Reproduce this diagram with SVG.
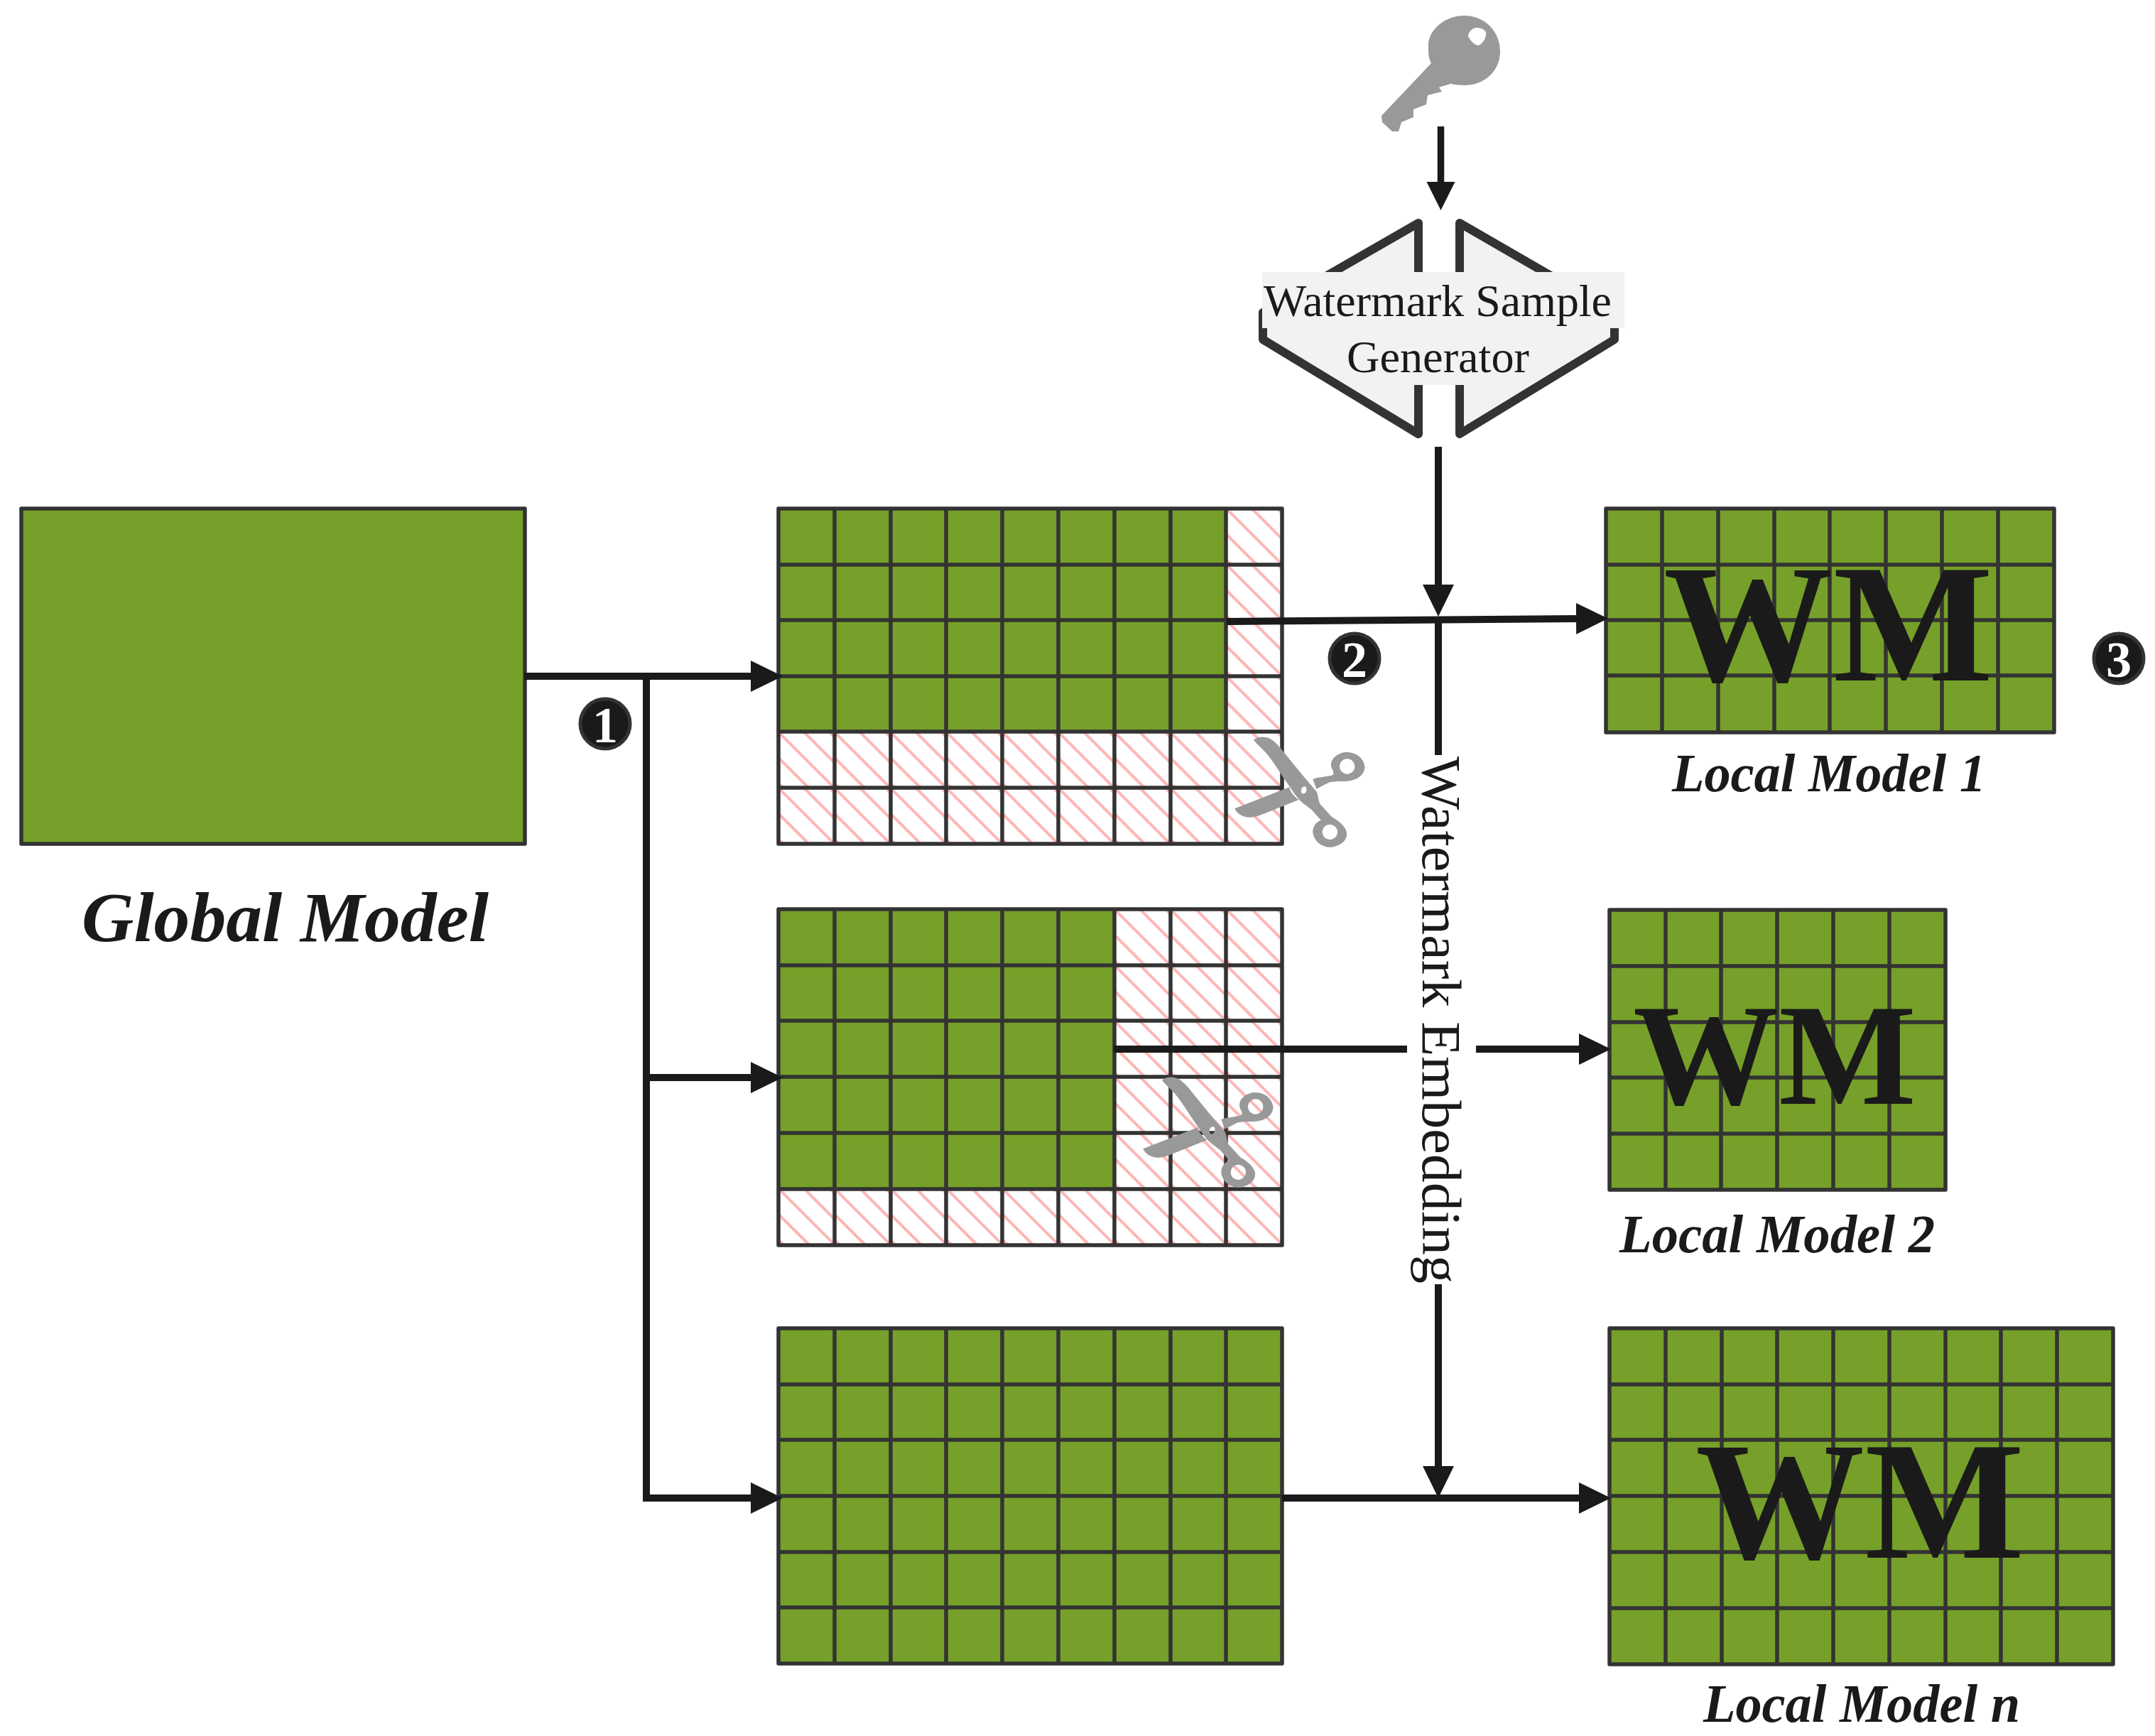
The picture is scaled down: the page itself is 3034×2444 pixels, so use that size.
<svg xmlns="http://www.w3.org/2000/svg" xmlns:xlink="http://www.w3.org/1999/xlink" width="3034" height="2444" viewBox="0 0 3034 2444">
<style>
text{font-family:"Liberation Serif","Times New Roman",serif;fill:#1a1a1a}
.green{fill:#76a029}
.grid{fill:none;stroke:#333;stroke-width:5.5;stroke-linejoin:round}
.conn{fill:none;stroke:#1a1a1a;stroke-width:10}
.lab{font-size:76px;font-weight:bold;font-style:italic}
.wm{font-weight:bold}
.gen{font-size:63px}
.badge circle{fill:#1a1a1a;stroke:#333;stroke-width:5}
.badge text{font-size:72px;font-weight:bold;fill:#fff;text-anchor:middle}
.grey{fill:#999}
</style>
<defs>
<g id="hl"><path d="M0 0L78.8 78.7M36 0L78.8 42.8M72 0L78.8 6.8M0 36L42.7 78.7M0 72L6.7 78.7" stroke="#ffb4b4" stroke-width="4" fill="none"/></g>
<pattern id="hatchA" patternUnits="userSpaceOnUse" x="1096" y="716" width="78.8" height="78.67"><use xlink:href="#hl" href="#hl"/></pattern>
<pattern id="hatchB" patternUnits="userSpaceOnUse" x="1096" y="1280" width="78.8" height="78.67"><use xlink:href="#hl" href="#hl"/></pattern>
<marker id="arr" markerUnits="userSpaceOnUse" markerWidth="48" markerHeight="46" refX="1" refY="23" orient="auto"><path d="M0 1L45 23L0 45z" fill="#1a1a1a"/></marker>
<marker id="arrS" markerUnits="userSpaceOnUse" markerWidth="44" markerHeight="42" refX="1" refY="21" orient="auto"><path d="M0 1L40 21L0 41z" fill="#1a1a1a"/></marker>
<g id="scissors" class="grey" transform="translate(1600,700) scale(.33333)">
<path d="M495 1025C510 1012 535 1008 560 1018C585 1030 605 1055 625 1080L700 1172L762 1245C768 1262 768 1280 775 1295L825 1350C850 1365 880 1385 888 1415C892 1445 870 1470 825 1478C785 1480 750 1455 745 1415C745 1390 760 1370 780 1365L740 1320C715 1300 690 1285 675 1262C660 1245 650 1225 640 1212C610 1170 590 1135 560 1095C540 1070 515 1050 495 1025ZM817 1382A32 32 0 1 0 817.1 1446A32 32 0 1 0 817 1382ZM707 1222A10 15 20 1 0 707.1 1252A10 15 20 1 0 707 1222Z" fill-rule="evenodd"/>
<path d="M415 1315L645 1225C652 1250 668 1265 685 1278L525 1342C495 1355 465 1355 445 1345C430 1338 420 1327 415 1315Z"/>
<path d="M745 1190C770 1182 800 1180 825 1175C835 1170 835 1160 825 1145C815 1120 830 1090 875 1078C925 1072 960 1100 965 1140C960 1180 925 1198 880 1200C850 1200 830 1200 812 1205L760 1232ZM890 1105A32 32 0 1 0 890.1 1169A32 32 0 1 0 890 1105Z" fill-rule="evenodd"/>
</g>
</defs>
<rect width="3034" height="2444" fill="#fff"/>

<g id="global-model">
<rect class="green" x="30" y="716" width="709" height="472"/>
<rect class="grid" x="30" y="716" width="709" height="472"/>
<text x="115" y="1325" font-size="100" font-weight="bold" font-style="italic" textLength="573" lengthAdjust="spacingAndGlyphs">Global Model</text>
</g>

<g id="pruned-model-a">
<rect x="1096" y="716" width="709" height="472" fill="url(#hatchA)"/>
<rect class="green" x="1096" y="716" width="630" height="314"/>
<path class="grid" d="M1096 716H1805V1188H1096ZM1175 716V1188M1254 716V1188M1332 716V1188M1411 716V1188M1490 716V1188M1569 716V1188M1648 716V1188M1726 716V1188M1096 795H1805M1096 873H1805M1096 952H1805M1096 1030H1805M1096 1109H1805"/>
</g>

<g id="pruned-model-b">
<rect x="1096" y="1280" width="709" height="473" fill="url(#hatchB)"/>
<rect class="green" x="1096" y="1280" width="472" height="394"/>
<path class="grid" d="M1096 1280H1805V1753H1096ZM1175 1280V1753M1254 1280V1753M1332 1280V1753M1411 1280V1753M1490 1280V1753M1569 1280V1753M1648 1280V1753M1726 1280V1753M1096 1359H1805M1096 1437H1805M1096 1516H1805M1096 1595H1805M1096 1674H1805"/>
</g>

<g id="full-model-c">
<rect class="green" x="1096" y="1870" width="709" height="472"/>
<path class="grid" d="M1096 1870H1805V2342H1096ZM1175 1870V2342M1254 1870V2342M1332 1870V2342M1411 1870V2342M1490 1870V2342M1569 1870V2342M1648 1870V2342M1726 1870V2342M1096 1949H1805M1096 2027H1805M1096 2106H1805M1096 2185H1805M1096 2263H1805"/>
</g>

<g id="local-model-1">
<rect class="green" x="2261" y="716" width="631" height="315"/>
<path class="grid" d="M2261 716H2892V1031H2261ZM2340 716V1031M2419 716V1031M2498 716V1031M2576 716V1031M2655 716V1031M2734 716V1031M2813 716V1031M2261 795H2892M2261 873H2892M2261 951H2892"/>
<text class="wm" x="2342" y="958" font-size="238" textLength="464" lengthAdjust="spacingAndGlyphs">WM</text>
<text class="lab" x="2354" y="1114" textLength="442" lengthAdjust="spacingAndGlyphs">Local Model 1</text>
</g>

<g id="local-model-2">
<rect class="green" x="2266" y="1281" width="473" height="394"/>
<path class="grid" d="M2266 1281H2739V1675H2266ZM2345 1281V1675M2423 1281V1675M2502 1281V1675M2581 1281V1675M2660 1281V1675M2266 1360H2739M2266 1439H2739M2266 1517H2739M2266 1596H2739"/>
<text class="wm" x="2299" y="1554" font-size="204" textLength="399" lengthAdjust="spacingAndGlyphs">WM</text>
<text class="lab" x="2280" y="1763" textLength="444" lengthAdjust="spacingAndGlyphs">Local Model 2</text>
</g>

<g id="local-model-n">
<rect class="green" x="2266" y="1870" width="709" height="473"/>
<path class="grid" d="M2266 1870H2975V2343H2266ZM2345 1870V2343M2424 1870V2343M2502 1870V2343M2581 1870V2343M2660 1870V2343M2739 1870V2343M2817 1870V2343M2896 1870V2343M2266 1949H2975M2266 2027H2975M2266 2106H2975M2266 2185H2975M2266 2264H2975"/>
<text class="wm" x="2387" y="2193" font-size="238" textLength="463" lengthAdjust="spacingAndGlyphs">WM</text>
<text class="lab" x="2398" y="2424" textLength="446" lengthAdjust="spacingAndGlyphs">Local Model n</text>
</g>

<g id="watermark-generator">
<path d="M1997 314L1778 440V478L1997 611Z" fill="#f2f2f2" stroke="#333" stroke-width="12" stroke-linejoin="round"/>
<path d="M2055 314L2273 440V478L2055 611Z" fill="#f2f2f2" stroke="#333" stroke-width="12" stroke-linejoin="round"/>
<rect x="1777" y="383" width="510" height="79" fill="#f2f2f2"/>
<rect x="1898" y="462" width="255" height="80" fill="#f2f2f2"/>
<text class="gen" x="1779" y="445" textLength="490" lengthAdjust="spacingAndGlyphs">Watermark Sample</text>
<text class="gen" x="1896" y="524" textLength="257" lengthAdjust="spacingAndGlyphs">Generator</text>
</g>

<g id="key" class="grey">
<path fill-rule="evenodd" d="M2062 22C2090 22 2112 44 2112 72C2112 102 2088 120 2062 120C2054 120 2048 119 2042 118L2026 123L2030 129L2010 134L2008 147L1990 154L1990 165L1973 172L1969 185L1960 185L1946 172L1945 163L2015 89C2010 80 2011 70 2011 62C2012 42 2034 22 2062 22ZM2080 39C2071 39 2067 47 2067 51C2070 57 2076 64 2082 64C2090 60 2093 50 2092 45C2089 41 2085 39 2080 39Z"/>
</g>

<g id="connectors">
<path class="conn" d="M2028.5 178V257" style="stroke-width:9.5px" marker-end="url(#arrS)"/>
<path class="conn" d="M2025 629V824" marker-end="url(#arr)"/>
<path class="conn" d="M2025 873V1063"/>
<path class="conn" d="M2025 1808V2065" marker-end="url(#arr)"/>
<path class="conn" d="M1727 875L2220 871" marker-end="url(#arr)"/>
<path class="conn" d="M1568 1477H1981"/>
<path class="conn" d="M2078 1477H2224" marker-end="url(#arr)"/>
<path class="conn" d="M1805 2109H2224" marker-end="url(#arr)"/>
<path class="conn" d="M738 952H1058" marker-end="url(#arr)"/>
<path class="conn" d="M910 952V2109H1058" marker-end="url(#arr)"/>
<path class="conn" d="M910 1517H1058" marker-end="url(#arr)"/>
</g>

<g id="scissors-a"><use xlink:href="#scissors" href="#scissors"/></g>
<g id="scissors-b"><use xlink:href="#scissors" href="#scissors" transform="translate(-129,479)"/></g>

<text id="watermark-embedding" x="2003" y="1065" font-size="78" transform="rotate(90 2003 1065)" textLength="742" lengthAdjust="spacingAndGlyphs">Watermark Embedding</text>

<g id="badge-1" class="badge"><circle cx="852" cy="1019" r="35"/><text x="852" y="1045">1</text></g>
<g id="badge-2" class="badge"><circle cx="1907" cy="927" r="35"/><text x="1907" y="953">2</text></g>
<g id="badge-3" class="badge"><circle cx="2983" cy="927" r="35"/><text x="2983" y="953">3</text></g>
</svg>
